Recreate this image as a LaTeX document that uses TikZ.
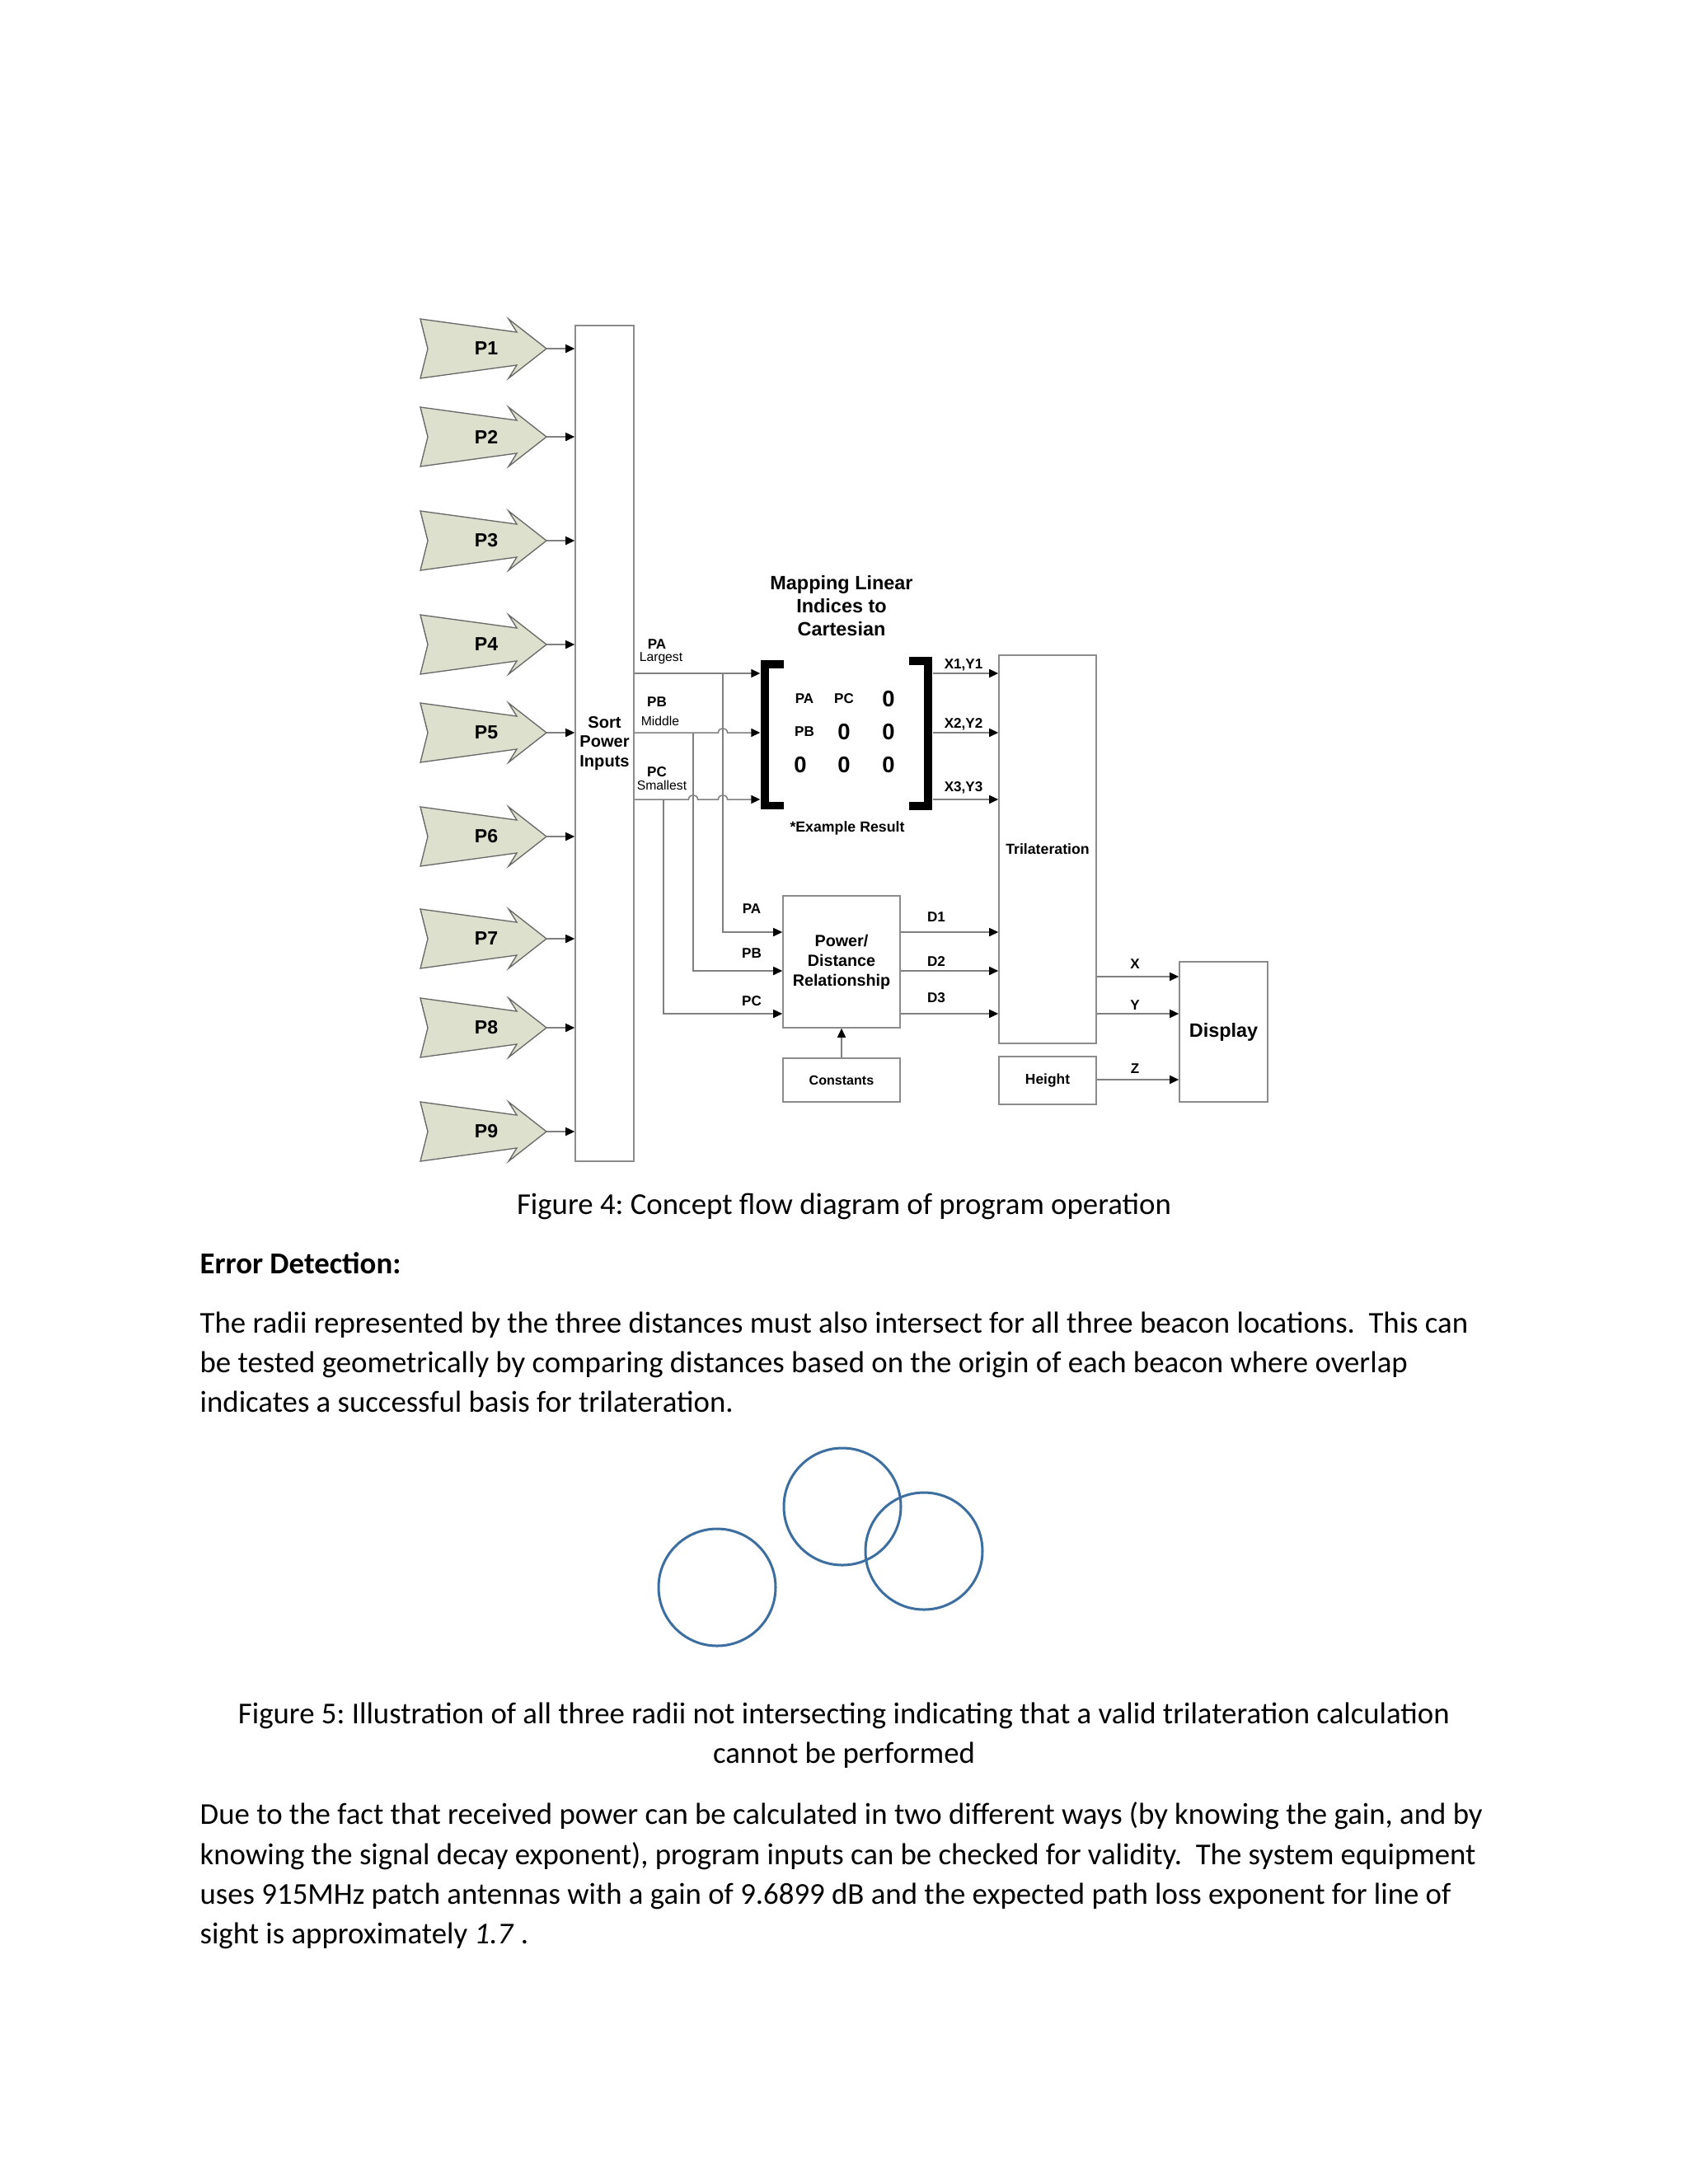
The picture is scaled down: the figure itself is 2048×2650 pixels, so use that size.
\documentclass[tikz,border=0pt]{standalone}
\usepackage{fontspec}
\setmainfont{Carlito}
\newfontfamily\arial{Liberation Sans}
\usetikzlibrary{arrows.meta}
\definecolor{lg}{RGB}{128,128,128}
\definecolor{bx}{RGB}{140,140,140}
\definecolor{pfill}{RGB}{221,224,204}
\definecolor{pline}{RGB}{105,105,105}
\definecolor{cblue}{RGB}{60,110,160}
\newlength\px \setlength\px{0.29883pt}
\newcommand\mybox[7][]{\node[box,#1, minimum width={(#4-#2)*\px}, minimum height={(#5-#3)*\px}] (#6) at ({(#2+#4)/2},{(#3+#5)/2}) {#7};}
\frenchspacing
\begin{document}
\begin{tikzpicture}[x=0.29883pt,y=-0.29883pt,
 conn/.style={draw=lg, line width=0.45pt, -{Triangle[length=3.3pt,width=3pt,color=black]}},
 box/.style={draw=bx, line width=0.45pt, inner sep=0, align=center, font=\arial\bfseries\fontsize{5.2}{6.2}\selectfont},
 lab/.style={inner sep=0, font=\arial\bfseries\fontsize{5.1}{6}\selectfont},
 sublab/.style={inner sep=0, font=\arial\fontsize{4.7}{5.6}\selectfont},
 plab/.style={inner sep=0, font=\arial\bfseries\fontsize{6.9}{8}\selectfont},
 zero/.style={inner sep=0, font=\arial\bfseries\fontsize{8.2}{9}\selectfont},
 parr/.style={fill=pfill, draw=pline, line width=0.4pt, line join=miter},
 body/.style={inner sep=0, anchor=base west, font=\fontsize{11}{14.5}\selectfont},
 capt/.style={inner sep=0, anchor=base, font=\fontsize{11}{14.5}\selectfont},
 ring/.style={draw=cblue, line width=0.9pt},
 brk/.style={line width=2.9pt, line cap=butt, line join=miter},
]
\useasboundingbox[fill=white] (0,0) rectangle (2048,2650);

% input arrows
\foreach \i/\c in {1/423,2/530,3/656,4/782,5/889,6/1015,7/1139,8/1247,9/1373}{
  \draw[parr] (510,\c-36) -- (627,\c-20) -- (617,\c-36) -- (663,\c) -- (617,\c+36) -- (627,\c+20) -- (510,\c+36) -- (519,\c) -- cycle;
  \node[plab] (p\i) at (590,\c) {P\i};
  \coordinate (tip\i) at (663,\c);
}

% boxes
\mybox[font=\arial\bfseries\fontsize{6}{7}\selectfont]{698}{395}{769}{1409}{sort}{Sort\\Power\\Inputs}
\mybox[font=\arial\bfseries\fontsize{5.9}{7.2}\selectfont]{950}{1087}{1092}{1247}{pow}{Power/\\Distance\\Relationship}
\mybox[font=\arial\bfseries\fontsize{5.3}{6.2}\selectfont]{1212}{795}{1330}{1266}{tri}{Trilateration}
\mybox[font=\arial\bfseries\fontsize{4.8}{6}\selectfont]{950}{1284}{1092}{1337}{cons}{Constants}
\mybox[font=\arial\bfseries\fontsize{5.2}{6.2}\selectfont]{1212}{1282}{1330}{1340}{hgt}{Height}
\mybox[font=\arial\bfseries\fontsize{7}{8}\selectfont]{1431}{1167}{1538}{1337}{disp}{Display}

\foreach \i in {1,...,9}{\draw[conn] (tip\i) -- (sort.west |- tip\i);}

% matrix
\node[inner sep=0, minimum width={208*\px}, minimum height={186*\px}] (mat) at (1027,890) {};
\draw[brk] (951,806) -- (928,806) -- (928,977.5) -- (951,977.5);
\draw[brk] (1103,802) -- (1126,802) -- (1126,978) -- (1103,978);
\node[inner sep=0, align=center, font=\arial\bfseries\fontsize{7}{8.4}\selectfont] (title) at (1021,735) {Mapping Linear\\Indices to\\Cartesian};
\node[lab] (m11) at (976,848) {PA};
\node[lab] (m12) at (1024,848) {PC};
\node[zero] (m13) at (1078,848) {0};
\node[lab] (m21) at (976,888) {PB};
\node[zero] (m22) at (1024,888) {0};
\node[zero] (m23) at (1078,888) {0};
\node[zero] (m31) at (971,928) {0};
\node[zero] (m32) at (1024,928) {0};
\node[zero] (m33) at (1078,928) {0};
\node[lab, font=\arial\bfseries\fontsize{5.3}{6}\selectfont] (ex) at (1028,1005) {*Example Result};

% rows
\coordinate (r1) at (0,817); \coordinate (r2) at (0,889); \coordinate (r3) at (0,970);
\coordinate (q1) at (0,1131); \coordinate (q2) at (0,1178); \coordinate (q3) at (0,1230);
\coordinate (yx) at (0,1185); \coordinate (yz) at (0,1310);
\coordinate (va) at (877,817); \coordinate (vb) at (841,889); \coordinate (vc) at (805,970);

\draw[conn] (sort.east |- r1) -- (mat.west |- r1);
\draw[conn] (sort.east |- r2) -- (871.5,889) .. controls (871.5,882) and (882.5,882) .. (882.5,889) -- (mat.west |- r2);
\draw[conn] (sort.east |- r3) -- (835.5,970) .. controls (835.5,963) and (846.5,963) .. (846.5,970) -- (871.5,970) .. controls (871.5,963) and (882.5,963) .. (882.5,970) -- (mat.west |- r3);
\draw[conn] (va) |- (pow.west |- q1);
\draw[conn] (vb) |- (pow.west |- q2);
\draw[conn] (vc) |- (pow.west |- q3);

\node[lab] (la) at (797,782) {PA};
\node[sublab] (lla) at (802,799) {Largest};
\node[lab] (lb) at (797,852) {PB};
\node[sublab] (llb) at (801,875) {Middle};
\node[lab] (lc) at (797,937) {PC};
\node[sublab] (llc) at (803,953) {Smallest};

\node[lab] (ia) at (912,1103) {PA};
\node[lab] (ib) at (912,1157) {PB};
\node[lab] (ic) at (912,1215) {PC};

\draw[conn] (mat.east |- r1) -- (tri.west |- r1);
\draw[conn] (mat.east |- r2) -- (tri.west |- r2);
\draw[conn] (mat.east |- r3) -- (tri.west |- r3);
\node[lab] (xy1) at (1169,807) {X1,Y1};
\node[lab] (xy2) at (1169,879) {X2,Y2};
\node[lab] (xy3) at (1169,956) {X3,Y3};

\draw[conn] (pow.east |- q1) -- (tri.west |- q1);
\draw[conn] (pow.east |- q2) -- (tri.west |- q2);
\draw[conn] (pow.east |- q3) -- (tri.west |- q3);
\node[lab] (d1) at (1136,1113) {D1};
\node[lab] (d2) at (1136,1167) {D2};
\node[lab] (d3) at (1136,1211) {D3};

\draw[conn] (cons) -- (pow);

\draw[conn] (tri.east |- yx) -- (disp.west |- yx);
\draw[conn] (tri.east |- q3) -- (disp.west |- q3);
\draw[conn] (hgt.east |- yz) -- (disp.west |- yz);
\node[lab] (lx) at (1377,1170) {X};
\node[lab] (ly) at (1377,1220) {Y};
\node[lab] (lz) at (1377,1297) {Z};

% text
\node[capt] (cap4) at (1024,1473) {Figure 4: Concept flow diagram of program operation};
\node[body, font=\bfseries\fontsize{11}{14.5}\selectfont] (err) at (242,1545) {Error Detection:};
\node[body] (a1) at (242,1617) {The radii represented by the three distances must also intersect for all three beacon locations.\ \ This can};
\node[body] (a2) at (242,1665) {be tested geometrically by comparing distances based on the origin of each beacon where overlap};
\node[body] (a3) at (242,1713) {indicates a successful basis for trilateration.};

\draw[ring] (870,1926) circle[radius=71];
\draw[ring] (1022,1828) circle[radius=71];
\draw[ring] (1121,1882) circle[radius=71];

\node[capt] (cap5a) at (1024,2091) {Figure 5: Illustration of all three radii not intersecting indicating that a valid trilateration calculation};
\node[capt] (cap5b) at (1024,2139) {cannot be performed};

\node[body] (b1) at (242,2213) {Due to the fact that received power can be calculated in two different ways (by knowing the gain, and by};
\node[body] (b2) at (242,2262) {knowing the signal decay exponent), program inputs can be checked for validity.\ \ The system equipment};
\node[body] (b3) at (242,2310) {uses 915MHz patch antennas with a gain of 9.6899 dB and the expected path loss exponent for line of};
\node[body] (b4) at (242,2358) {sight is approximately \textit{1.7} .};
\end{tikzpicture}
\end{document}
